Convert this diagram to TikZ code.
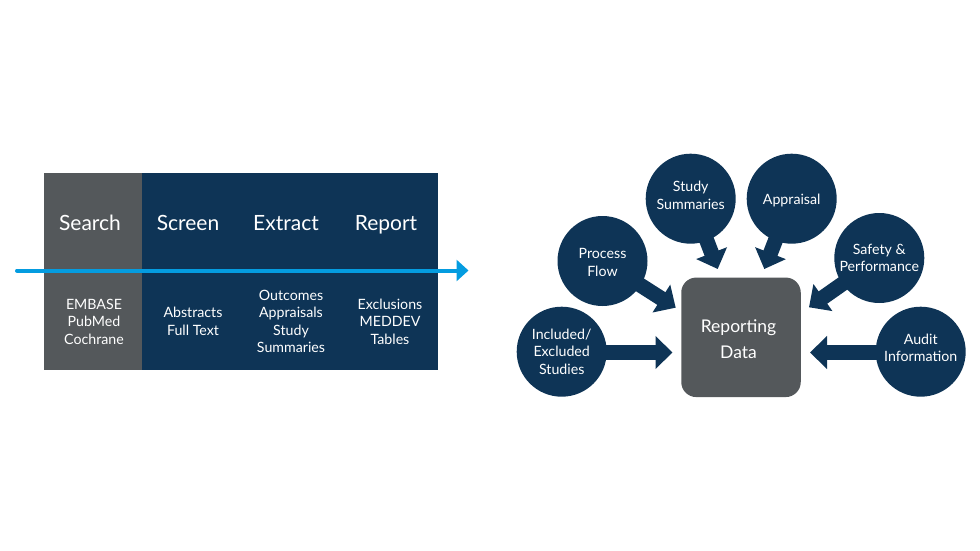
\documentclass[tikz,border=0pt]{standalone}
\usepackage{fontspec}
\setmainfont{Lato}
\usetikzlibrary{arrows.meta}
\definecolor{navyfill}{RGB}{14,52,86}
\definecolor{greyfill}{RGB}{84,88,91}
\definecolor{flowblue}{RGB}{4,156,224}
\tikzset{
    headtxt/.style={text=white, font=\fontsize{21}{25}\selectfont, inner sep=0pt, anchor=base},
    listtxt/.style={text=white, font=\fontsize{14.2}{17.5}\selectfont, align=center, inner sep=0pt},
    reporttxt/.style={text=white, font=\fontsize{17.5}{26.6}\selectfont, align=center, inner sep=0pt},
    bubble/.style={circle, fill=navyfill, minimum size=90pt, inner sep=0pt},
    bigarrow/.style={navyfill, line width=15pt, shorten <=-2pt, -{Triangle[length=17pt,width=32pt]}}
}
\begin{document}
\begin{tikzpicture}[x=1pt, y=-1pt]
    \useasboundingbox (0,0) rectangle (980,551);

    % Process table on the left
    \node[fill=greyfill, minimum width=98pt, minimum height=196.5pt, inner sep=0pt] (searchcol) at (93,271.25) {};
    \node[fill=navyfill, minimum width=295.5pt, minimum height=196.5pt, inner sep=0pt] (restcol) at (289.75,271.25) {};

    % Column headings
    \node[headtxt] (search) at (90,230) {Search};
    \node[headtxt] (screen) at (188,230) {Screen};
    \node[headtxt] (extract) at (286,230) {Extract};
    \node[headtxt] (report) at (386,230) {Report};

    % Column contents
    \node[listtxt] (searchlist) at (94,321.5) {EMBASE\\PubMed\\Cochrane};
    \node[listtxt] (screenlist) at (193,321.5) {Abstracts\\Full Text};
    \node[listtxt] (extractlist) at (291,321.5) {Outcomes\\Appraisals\\Study\\Summaries};
    \node[listtxt] (reportlist) at (390,321.5) {Exclusions\\MEDDEV\\Tables};

    % Flow line across the table
    \coordinate (flowstart) at (17,270.5);
    \coordinate (flowend) at (468.5,270.5);
    \draw[flowblue, line width=4pt, line cap=round, -{Triangle[length=12pt,width=21pt]}] (flowstart) -- (flowend);

    % Reporting box on the right
    \node[fill=greyfill, rounded corners=15pt, minimum width=119.5pt, minimum height=119.5pt, inner sep=0pt] (reporting) at (741,337.3) {};
    \node[reporttxt] (reportingtxt) at (738.5,339) {Reporting\\Data};

    % Circles around the box
    \node[bubble] (included) at (561.7,351.7) {};
    \node[bubble] (process) at (602.5,261) {};
    \node[bubble] (study) at (690.7,198.7) {};
    \node[bubble] (appraisal) at (791.7,198.7) {};
    \node[bubble] (safety) at (879.3,258) {};
    \node[bubble] (audit) at (920.7,351.7) {};

    % Arrow tips beside the box
    \coordinate (includedtip) at (672.5,352.5);
    \coordinate (processtip) at (675.7,307.7);
    \coordinate (studytip) at (717.7,269);
    \coordinate (appraisaltip) at (764.3,269);
    \coordinate (safetytip) at (809,307.3);
    \coordinate (audittip) at (810,352.5);

    \draw[bigarrow] (included.east |- includedtip) -- (includedtip);
    \draw[bigarrow] (process) -- (processtip);
    \draw[bigarrow] (study) -- (studytip);
    \draw[bigarrow] (appraisal) -- (appraisaltip);
    \draw[bigarrow] (safety) -- (safetytip);
    \draw[bigarrow] (audit.west |- audittip) -- (audittip);

    % Circle labels
    \node[listtxt] (includedtxt) at (561.7,351.5) {Included/\\Excluded\\Studies};
    \node[listtxt] (processtxt) at (602.5,262.5) {Process\\Flow};
    \node[listtxt] (studytxt) at (690.7,195.5) {Study\\Summaries};
    \node[listtxt] (appraisaltxt) at (791.7,200.5) {Appraisal};
    \node[listtxt] (safetytxt) at (879.3,258) {Safety \&\\Performance};
    \node[listtxt] (audittxt) at (920.7,348) {Audit\\Information};
\end{tikzpicture}
\end{document}
